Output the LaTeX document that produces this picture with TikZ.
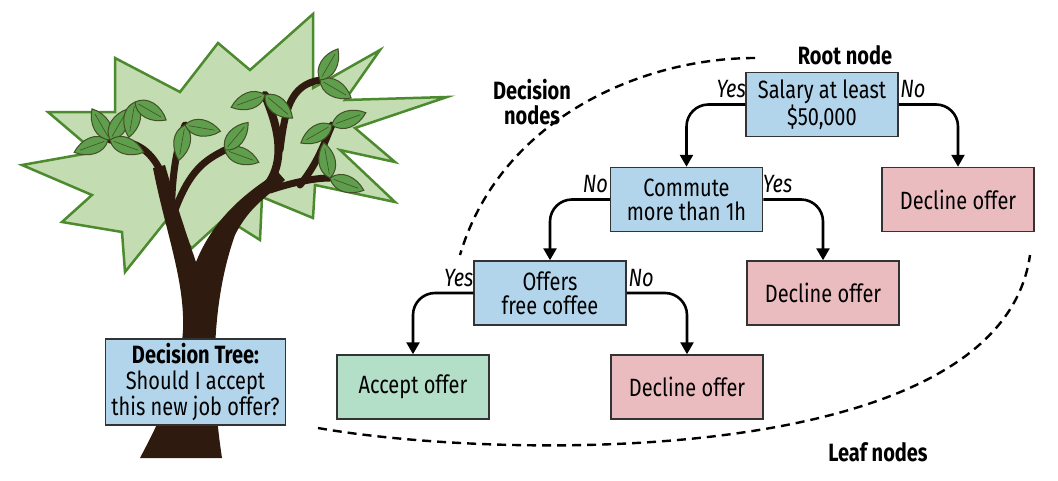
\documentclass[tikz,border=0pt]{standalone}
\usepackage{fontspec}
\setmainfont{Fira Sans}[FakeStretch=0.8]
\usetikzlibrary{arrows.meta,positioning}
\definecolor{boxblue}{HTML}{B3D5EB}
\definecolor{boxpink}{HTML}{EBBCBF}
\definecolor{boxgreen}{HTML}{B3DEC7}
\definecolor{crown}{HTML}{C4DCB1}
\definecolor{crownline}{HTML}{4B8A2E}
\definecolor{leafgreen}{HTML}{5F9E4C}
\definecolor{bark}{HTML}{2E1A0F}
\tikzset{
caixa/.style = {draw=black!80, line width=1.5pt, minimum width=152pt, minimum height=64pt, align=center, font=\fontsize{25}{24}\selectfont},
ramo/.style = {-{Triangle[length=12pt,width=13pt]}, line width=2.6pt, rounded corners=22pt},
rotulo/.style = {font=\fontsize{25}{25}\selectfont\itshape},
titulo/.style = {font=\fontsize{25}{25}\selectfont\bfseries, align=center},
tracejado/.style = {line width=2.4pt, dash pattern=on 9pt off 6pt}
}
\tikzset{
folha/.pic = {
  \draw[line width=1pt, fill=leafgreen, draw=bark!60!leafgreen] (0,0) .. controls (8,-12) and (25,-10) .. (36,0) .. controls (25,10) and (8,12) .. (0,0);
  \draw[line width=0.6pt, bark!60!leafgreen] (4,0) -- (30,0);
}
}
\begin{document}
\begin{tikzpicture}[x=1pt,y=-1pt]
  \useasboundingbox (0,0) rectangle (1058,480);
  % copa
  \draw[line width=2.5pt, draw=crownline, fill=crown, line join=miter]
    (22,165) -- (95,152) -- (48,112) -- (115,112) -- (115,58) -- (180,92) -- (218,43) -- (250,70)
    -- (313,14) -- (313,88) -- (380,50) -- (345,100) -- (447,97) -- (355,128) -- (395,162)
    -- (340,150) -- (395,202) -- (315,185) -- (313,218) -- (262,197) -- (260,240) -- (225,218)
    -- (192,248) -- (165,222) -- (125,272) -- (122,232) -- (62,222) -- (92,195) -- cycle;
  % tronco
  \fill[bark] (140,458) -- (222,458) .. controls (210,380) and (212,300) .. (235,235)
    .. controls (250,205) and (270,195) .. (285,180) -- (278,172) .. controls (250,190) and (215,215) .. (196,262)
    .. controls (185,230) and (175,200) .. (165,165) -- (153,168) .. controls (165,230) and (185,280) .. (183,330)
    .. controls (180,380) and (160,420) .. (140,458) -- cycle;
  \draw[bark, line width=7pt, line cap=round] (160,170) .. controls (150,150) and (135,140) .. (110,140);
  \draw[bark, line width=7pt, line cap=round] (172,230) .. controls (170,190) and (175,150) .. (185,125);
  \draw[bark, line width=7pt, line cap=round] (175,210) .. controls (190,170) and (205,160) .. (225,150);
  \draw[bark, line width=8pt, line cap=round] (250,200) .. controls (300,170) and (270,110) .. (265,95);
  \draw[bark, line width=7pt, line cap=round] (280,150) .. controls (285,110) and (290,85) .. (320,80);
  \draw[bark, line width=7pt, line cap=round] (300,185) .. controls (320,160) and (325,140) .. (332,125);
  \draw[bark, line width=7pt, line cap=round] (270,190) .. controls (300,180) and (320,178) .. (330,178);
  \foreach \px/\py/\ang in {108/140/200, 110/140/120, 110/140/60, 110/140/-20, 135/102/-100, 135/102/-30, 185/125/-100, 185/125/-10, 225/150/-20, 225/150/50,
                            265/95/-160, 265/95/-40, 320/80/-30, 320/80/60, 332/125/-150, 332/125/20, 330/178/-20, 330/178/100}
    \pic[rotate=\ang] at (\px,\py) {folha};
  % nos
  \node[caixa, fill=boxblue] (raiz) at (822,104.5) {Salary at least\\\$50,000};
  \node[caixa, fill=boxblue] (trajeto) at (686.5,199.5) {Commute\\more than 1h};
  \node[caixa, fill=boxblue] (cafe) at (550,293) {Offers\\free coffee};
  \node[caixa, fill=boxpink] (recusa1) at (958,199.5) {Decline offer};
  \node[caixa, fill=boxpink] (recusa2) at (823,293) {Decline offer};
  \node[caixa, fill=boxgreen] (aceita) at (413,387) {Accept offer};
  \node[caixa, fill=boxpink] (recusa3) at (687,387) {Decline offer};
  \node[caixa, fill=boxblue, minimum width=180pt, minimum height=86pt, font=\fontsize{25}{26}\selectfont] (arvore) at (195.5,382)
    {\textbf{Decision Tree:}\\Should I accept\\this new job offer?};
  % ramos
  \draw[ramo] (raiz.west) -| (trajeto.north) node[pos=0.12, rotulo, above=2pt] {Yes};
  \draw[ramo] (raiz.east) -| (recusa1.north) node[pos=0.12, rotulo, above=2pt] {No};
  \draw[ramo] (trajeto.west) -| (cafe.north) node[pos=0.12, rotulo, above=2pt] {No};
  \draw[ramo] (trajeto.east) -| (recusa2.north) node[pos=0.12, rotulo, above=2pt] {Yes};
  \draw[ramo] (cafe.west) -| (aceita.north) node[pos=0.12, rotulo, above=2pt] {Yes};
  \draw[ramo] (cafe.east) -| (recusa3.north) node[pos=0.12, rotulo, above=2pt] {No};
  % grupos
  \coordinate (d1) at (755,58);
  \coordinate (d2) at (460,255);
  \coordinate (f1) at (318,428);
  \coordinate (f2) at (1030,255);
  \draw[tracejado] (d1) .. controls (640,58) and (500,120) .. (d2);
  \draw[tracejado] (f1) .. controls (500,460) and (1000,470) .. (f2);
  \node[titulo] (rotraiz) at (845,55) {Root node};
  \node[titulo] (rotdecisao) at (532,102) {Decision\\nodes};
  \node[titulo] (rotfolha) at (878,452) {Leaf nodes};
\end{tikzpicture}
\end{document}
